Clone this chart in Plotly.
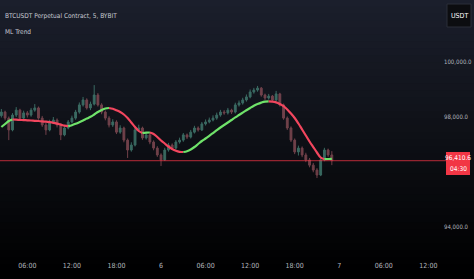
import plotly.graph_objects as go
import pandas as pd

# ---------------- data ----------------
start_time = "2024-12-05 02:30"
candle_minutes = 30

opens = [98050, 98180, 97960, 97530, 98070, 98250, 97960, 98150, 98070, 98250,
         98330, 97960, 97710, 97530, 97820, 97890, 97710, 97350, 97600, 97820,
         97960, 98180, 98440, 98620, 98330, 98470, 98800, 98440, 98180, 97960,
         97710, 97820, 97450, 97600, 97160, 96800, 96980, 97530, 97600, 97240,
         97350, 97090, 96870, 96620, 96440, 96800, 96980, 96870, 97090, 97160,
         97350, 97270, 97450, 97600, 97530, 97750, 97820, 97890, 97960, 98070,
         98180, 98150, 98250, 98180, 98440, 98510, 98620, 98730, 98910, 98980,
         99050, 98800, 98690, 98760, 98620, 98840, 98440, 97960, 97600, 97160,
         96730, 96870, 96620, 96440, 96250, 96070, 95890, 96440, 96800, 96620]
closes = [98180, 97960, 97530, 98070, 98250, 97960, 98150, 98070, 98250, 98330,
          97960, 97710, 97530, 97820, 97890, 97710, 97350, 97600, 97820, 97960,
          98180, 98440, 98620, 98330, 98470, 98800, 98440, 98180, 97960, 97710,
          97820, 97450, 97600, 97160, 96800, 96980, 97530, 97600, 97240, 97350,
          97090, 96870, 96620, 96440, 96800, 96980, 96870, 97090, 97160, 97350,
          97270, 97450, 97600, 97530, 97750, 97820, 97890, 97960, 98070, 98180,
          98150, 98250, 98180, 98440, 98510, 98620, 98730, 98910, 98980, 99050,
          98800, 98690, 98760, 98620, 98840, 98440, 97960, 97600, 97160, 96730,
          96870, 96620, 96440, 96250, 96070, 95890, 96440, 96800, 96620, 96410.6]
highs = [98290, 98230, 98020, 98140, 98360, 98300, 98230, 98220, 98330, 98470,
         98380, 98040, 97790, 97900, 98000, 97950, 97780, 97680, 97890, 98050,
         98260, 98530, 98730, 98680, 98560, 99160, 98870, 98500, 98240, 98030,
         97920, 97880, 97700, 97650, 97220, 97080, 97600, 97720, 97650, 97440,
         97400, 97150, 96940, 96680, 96880, 97060, 97040, 97160, 97250, 97420,
         97400, 97530, 97680, 97660, 97820, 97910, 97980, 98060, 98160, 98260,
         98250, 98330, 98300, 98520, 98600, 98700, 98820, 99000, 99060, 99130,
         99090, 98850, 98840, 98800, 98950, 98880, 98490, 98020, 97660, 97220,
         96960, 96930, 96700, 96510, 96330, 96140, 96520, 96880, 96850, 96760]
lows = [97980, 97880, 97160, 97480, 98000, 97890, 97900, 97980, 98010, 98190,
        97900, 97640, 97350, 97480, 97760, 97620, 97160, 97300, 97550, 97770,
        97900, 98120, 98380, 98270, 98250, 98420, 98380, 98100, 97880, 97620,
        97640, 97380, 97390, 97080, 96510, 96740, 96930, 97460, 97170, 97180,
        97010, 96790, 96550, 96220, 96400, 96740, 96800, 96820, 97030, 97100,
        97200, 97220, 97400, 97470, 97490, 97690, 97770, 97840, 97900, 98010,
        98080, 98090, 98110, 98130, 98380, 98450, 98560, 98680, 98850, 98920,
        98740, 98620, 98630, 98550, 98580, 98380, 97900, 97530, 97090, 96650,
        96600, 96540, 96360, 96170, 95990, 95780, 95850, 96390, 96550, 96250]
ml_trend = [97636, 97746, 97855, 97909, 97902, 97895, 97887, 97880, 97873, 97862,
            97855, 97844, 97829, 97811, 97789, 97760, 97724, 97687, 97666, 97702,
            97753, 97811, 97873, 97942, 98007, 98091, 98182, 98255, 98309, 98327,
            98298, 98244, 98182, 98091, 97964, 97800, 97636, 97491, 97418, 97433,
            97437, 97382, 97273, 97146, 97037, 96928, 96836, 96771, 96735, 96727,
            96757, 96818, 96909, 97018, 97127, 97218, 97316, 97418, 97520, 97618,
            97709, 97800, 97891, 97986, 98073, 98160, 98244, 98327, 98407, 98473,
            98524, 98560, 98567, 98560, 98531, 98473, 98393, 98273, 98127, 97964,
            97764, 97546, 97327, 97109, 96909, 96709, 96527, 96466, 96473, 96477]

last_price = 96410.6
last_price_text = "96,410.6"
countdown_text = "04:30"
y_tick_vals = [94000, 98000, 100000]
y_tick_text = ["94,000.0", "98,000.0", "100,000.0"]
x_tick_vals = ["2024-12-05 06:00", "2024-12-05 12:00", "2024-12-05 18:00",
               "2024-12-06 00:00", "2024-12-06 06:00", "2024-12-06 12:00",
               "2024-12-06 18:00", "2024-12-07 00:00", "2024-12-07 06:00",
               "2024-12-07 12:00"]
x_tick_text = ["06:00", "12:00", "18:00", "6", "06:00", "12:00", "18:00", "7",
               "06:00", "12:00"]
x_range = ["2024-12-05 02:19", "2024-12-07 13:34"]
y_range = [93091, 102255]
title_line = "BTCUSDT Perpetual Contract, 5, BYBIT"
indicator_name = "ML Trend"
currency = "USDT"

times = pd.date_range(start_time, periods=len(closes), freq=f"{candle_minutes}min")

# ---------------- styling ----------------
W, H = 474, 279
ML, MR, MT, MB = 0, 34, 0, 27
PW, PH = W - ML - MR, H - MT - MB
FONT = "Liberation Sans Narrow, DejaVu Sans Condensed, Roboto Condensed, Roboto, sans-serif"
GREEN = "#6fe26a"
RED = "#f2465e"

fig = go.Figure()

fig.add_trace(go.Candlestick(
    x=times, open=opens, high=highs, low=lows, close=closes,
    increasing=dict(line=dict(color="#4c8f80", width=1), fillcolor="#4c8f80"),
    decreasing=dict(line=dict(color="#9a5660", width=1), fillcolor="#9a5660"),
    whiskerwidth=0, opacity=0.7, showlegend=False, hoverinfo="skip",
))

# ML trend coloured by direction
segs = []
cur_up = None
cur = []
for i in range(1, len(ml_trend)):
    up = ml_trend[i] >= ml_trend[i - 1]
    if cur_up is None or up != cur_up:
        if cur:
            segs.append((cur_up, cur))
        cur = [i - 1, i]
        cur_up = up
    else:
        cur.append(i)
segs.append((cur_up, cur))
for up, idx in segs:
    fig.add_trace(go.Scatter(
        x=[times[k] for k in idx], y=[ml_trend[k] for k in idx],
        mode="lines", line=dict(color=GREEN if up else RED, width=2.2, shape="spline"),
        showlegend=False, hoverinfo="skip",
    ))

shapes = []
# vertical gradient background
top = (27, 31, 44)
mid = (14, 16, 22)
bot = (0, 0, 0)
N = 40
y0p, y1p = -MB / PH, 1 + MT / PH
for k in range(N):
    f = k / (N - 1)
    if f < 0.5:
        g = f / 0.5
        c = tuple(int(top[j] + (mid[j] - top[j]) * g) for j in range(3))
    else:
        g = (f - 0.5) / 0.5
        c = tuple(int(mid[j] + (bot[j] - mid[j]) * g) for j in range(3))
    ya = y1p - (y1p - y0p) * k / N
    yb = y1p - (y1p - y0p) * (k + 1) / N
    shapes.append(dict(type="rect", xref="paper", yref="paper", x0=-0.01, x1=W / PW + 0.01,
                       y0=yb - 0.002, y1=ya + 0.002, fillcolor=f"rgb{c}", line=dict(width=0),
                       layer="below"))

# last price line
shapes.append(dict(type="line", xref="paper", yref="y", x0=0, x1=1.015, y0=last_price, y1=last_price,
                   line=dict(color="rgba(242,54,69,0.75)", width=1)))


def px2py(py):
    return (PH - py) / PH


# price label box
shapes.append(dict(type="rect", xref="paper", yref="paper",
                   x0=446 / PW, x1=470 / PW, y0=px2py(175), y1=px2py(152),
                   fillcolor="#f23645", line=dict(width=0)))
# currency box
shapes.append(dict(type="rect", xref="paper", yref="paper",
                   x0=447 / PW, x1=471 / PW, y0=px2py(27), y1=px2py(4),
                   fillcolor="#0c0d10", line=dict(color="#2a2e39", width=1)))

annotations = [
    dict(text=title_line, x=3 / PW, y=px2py(16), xref="paper", yref="paper",
         xanchor="left", yanchor="middle", showarrow=False,
         font=dict(family=FONT, size=6.5, color="#c8cbd3")),
    dict(text=indicator_name, x=3 / PW, y=px2py(32), xref="paper", yref="paper",
         xanchor="left", yanchor="middle", showarrow=False,
         font=dict(family=FONT, size=6.5, color="#c8cbd3")),
    dict(text=currency, x=459 / PW, y=px2py(16), xref="paper", yref="paper",
         xanchor="center", yanchor="middle", showarrow=False,
         font=dict(family=FONT, size=7, color="#ffffff")),
    dict(text=last_price_text, x=458 / PW, y=px2py(157.5), xref="paper", yref="paper",
         xanchor="center", yanchor="middle", showarrow=False,
         font=dict(family=FONT, size=6.5, color="#ffffff")),
    dict(text=countdown_text, x=458 / PW, y=px2py(168.5), xref="paper", yref="paper",
         xanchor="center", yanchor="middle", showarrow=False,
         font=dict(family=FONT, size=6.5, color="#ffffff")),
]

fig.update_layout(
    width=W, height=H,
    margin=dict(l=ML, r=MR, t=MT, b=MB, pad=0),
    paper_bgcolor="#000000", plot_bgcolor="rgba(0,0,0,0)",
    shapes=shapes, annotations=annotations, showlegend=False,
    xaxis=dict(range=x_range, rangeslider=dict(visible=False), showgrid=False,
               zeroline=False, tickvals=x_tick_vals, ticktext=x_tick_text,
               tickfont=dict(family=FONT, size=7, color="#b2b5be"), ticks="",
               showline=False, ticklabelstandoff=8),
    yaxis=dict(range=y_range, side="right", showgrid=False, zeroline=False,
               tickvals=y_tick_vals, ticktext=y_tick_text, ticks="",
               tickfont=dict(family=FONT, size=6, color="#b2b5be"), showline=False,
               ticklabelstandoff=3),
)

fig.write_html("out.html")
